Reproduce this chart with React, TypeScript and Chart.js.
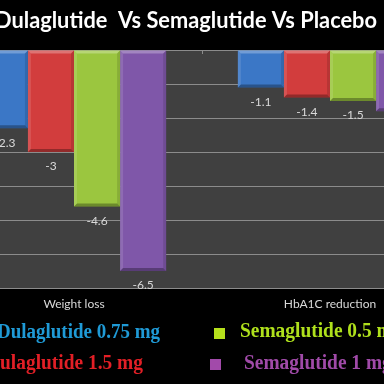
import React, { useEffect, useRef } from "react";
import { Chart, registerables } from "chart.js";

Chart.register(...registerables);

// ---- data ----
const categories = ["Weight loss", "HbA1C reduction"];
const seriesNames = ["Dulaglutide 0.75 mg", "Dulaglutide 1.5 mg", "Semaglutide 0.5 mg", "Semaglutide 1 mg"];
const dula075 = [-2.3, -1.1];
const dula15 = [-3, -1.4];
const sema05 = [-4.6, -1.5];
const sema1 = [-6.5, -1.8];
const yMin = -7;
const yMax = 0;
const yStep = 1;
const titleText = "Dulaglutide  Vs Semaglutide Vs Placebo";

// ---- styles ----
const barColors = ["#3b77c6", "#d23d3d", "#9bc63f", "#7f57a9"];
const legendColors = ["#1f9ad6", "#e21f26", "#afe01c", "#a04aa8"];
const markerColors = ["#1f9ad6", "#e21f26", "#b6e01c", "#a24aaa"];
const OX = 110; // canvas left offset relative to viewport

function drawFit(ctx: CanvasRenderingContext2D, text: string, left: number, baseline: number, width: number) {
  const w = ctx.measureText(text).width;
  ctx.save();
  ctx.translate(left, baseline);
  ctx.scale(width / w, 1);
  ctx.textAlign = "left";
  ctx.textBaseline = "alphabetic";
  ctx.fillText(text, 0, 0);
  ctx.restore();
  return width / w;
}

const decorPlugin = {
  id: "decor",
  beforeDraw(chart: any) {
    const { ctx, chartArea } = chart;
    ctx.save();
    ctx.fillStyle = "#000";
    ctx.fillRect(0, 0, chart.width, chart.height);
    ctx.fillStyle = "#404040";
    ctx.fillRect(chartArea.left, chartArea.top, chartArea.right - chartArea.left, chartArea.bottom - chartArea.top + 1);
    ctx.restore();
  },
  afterDatasetsDraw(chart: any) {
    const { ctx, chartArea } = chart;
    ctx.save();
    // category boundary tick
    const xs = chart.scales.x;
    const bx = Math.round((xs.getPixelForValue(0) + xs.getPixelForValue(1)) / 2) + 0.5;
    ctx.strokeStyle = "#8c8c8c";
    ctx.lineWidth = 1;
    ctx.beginPath();
    ctx.moveTo(bx, chartArea.top);
    ctx.lineTo(bx, chartArea.top + 4);
    ctx.stroke();

    chart.data.datasets.forEach((ds: any, di: number) => {
      const meta = chart.getDatasetMeta(di);
      meta.data.forEach((el: any, i: number) => {
        const p = el.getProps(["x", "y", "base", "width"], true);
        const l = p.x - p.width / 2;
        const r = p.x + p.width / 2;
        const t = Math.min(p.y, p.base);
        const b = Math.max(p.y, p.base);
        const e = 3;
        // top highlight
        ctx.fillStyle = "rgba(255,255,255,0.28)";
        ctx.beginPath();
        ctx.moveTo(l, t); ctx.lineTo(r, t); ctx.lineTo(r - e, t + e); ctx.lineTo(l + e, t + e); ctx.closePath(); ctx.fill();
        // left edge
        ctx.fillStyle = "rgba(255,255,255,0.12)";
        ctx.beginPath();
        ctx.moveTo(l, t); ctx.lineTo(l + e, t + e); ctx.lineTo(l + e, b - e); ctx.lineTo(l, b); ctx.closePath(); ctx.fill();
        // right edge
        ctx.fillStyle = "rgba(0,0,0,0.12)";
        ctx.beginPath();
        ctx.moveTo(r, t); ctx.lineTo(r - e, t + e); ctx.lineTo(r - e, b - e); ctx.lineTo(r, b); ctx.closePath(); ctx.fill();
        // bottom edge
        ctx.fillStyle = "rgba(0,0,0,0.3)";
        ctx.beginPath();
        ctx.moveTo(l, b); ctx.lineTo(l + e, b - e); ctx.lineTo(r - e, b - e); ctx.lineTo(r, b); ctx.closePath(); ctx.fill();
        // value label
        ctx.fillStyle = "#d9d9d9";
        ctx.font = "12px Lato";
        ctx.textAlign = "center";
        ctx.textBaseline = "middle";
        ctx.fillText(String(ds.data[i]), p.x, b + 14.5);
      });
    });
    ctx.restore();
  },
  afterDraw(chart: any) {
    const { ctx } = chart;
    ctx.save();
    // title
    ctx.fillStyle = "#ffffff";
    ctx.font = "bold 22px Lato";
    drawFit(ctx, titleText, -5 + OX, 28, 382);
    // legend
    ctx.font = "bold 20px 'Liberation Serif'";
    const items = [
      { m: [-29, 328], tx: -3, by: 338, w: 163 },
      { m: [-33, 359], tx: -14, by: 369, w: 157 },
      { m: [214, 328], tx: 240, by: 337, w: 0 },
      { m: [210, 359], tx: 244, by: 369, w: 0 },
    ];
    let sc = 1;
    items.forEach((it, k) => {
      ctx.fillStyle = markerColors[k];
      ctx.fillRect(it.m[0] + OX, it.m[1], 11, 11);
      ctx.fillStyle = legendColors[k];
      if (it.w) {
        sc = drawFit(ctx, seriesNames[k], it.tx + OX, it.by, it.w);
      } else {
        const w = ctx.measureText(seriesNames[k]).width * sc;
        drawFit(ctx, seriesNames[k], it.tx + OX, it.by, w);
      }
    });
    ctx.restore();
  },
};

export default function App() {
  const ref = useRef<HTMLCanvasElement | null>(null);
  useEffect(() => {
    if (!ref.current) return;
    const series = [dula075, dula15, sema05, sema1];
    const chart = new Chart(ref.current, {
      type: "bar",
      data: {
        labels: categories,
        datasets: series.map((d, k) => ({
          label: seriesNames[k],
          data: d,
          backgroundColor: barColors[k],
          borderWidth: 0,
          categoryPercentage: 0.72,
          barPercentage: 1,
        })),
      },
      options: {
        animation: false,
        responsive: false,
        maintainAspectRatio: false,
        layout: { padding: { left: 56, right: 32, top: 50, bottom: 0 } },
        plugins: { legend: { display: false }, title: { display: false }, tooltip: { enabled: false } },
        scales: {
          x: {
            position: "bottom",
            grid: { display: false, drawTicks: false },
            border: { display: false },
            ticks: { color: "#d9d9d9", font: { family: "Lato", size: 12 }, padding: 9, maxRotation: 0 },
            afterFit: (s: any) => { s.height = 96; },
          },
          y: {
            min: yMin,
            max: yMax,
            ticks: { stepSize: yStep, display: false },
            grid: { color: "#8c8c8c", drawTicks: false },
            border: { display: false },
            afterFit: (s: any) => { s.width = 0; },
          },
        },
      },
      plugins: [decorPlugin],
    });
    return () => chart.destroy();
  }, []);
  return (
    <div style={{ position: "fixed", left: 0, top: 0, width: 384, height: 384, overflow: "hidden", background: "#000" }}>
      <canvas ref={ref} width={600} height={384} style={{ position: "absolute", left: -OX, top: 0 }} />
    </div>
  );
}
